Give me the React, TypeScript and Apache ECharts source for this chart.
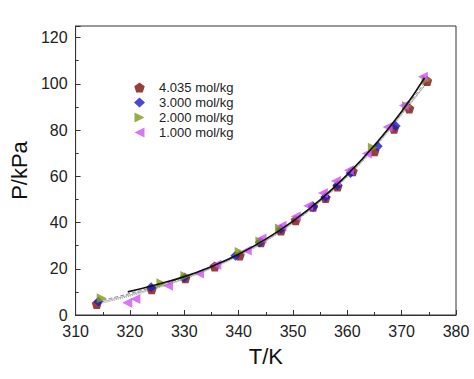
import React, { useEffect, useRef } from "react";
import * as echarts from "echarts";

// Experimental points (T/K, P/kPa)
const t4035 = [313.9, 324.0, 330.2, 335.6, 340.2, 344.1, 347.8, 350.5, 353.7, 356.0, 358.2, 361.0, 365.0, 368.6, 371.4, 374.7];
const p4035 = [4.8, 11.1, 15.9, 21.0, 25.7, 31.5, 36.6, 41.0, 46.8, 50.6, 55.6, 62.2, 70.8, 80.6, 89.3, 101.2];

const t3000 = [314.2, 323.9, 330.0, 339.4, 343.9, 347.8, 353.7, 356.0, 358.2, 360.6, 365.6, 368.9];
const p3000 = [5.8, 12.0, 16.2, 25.6, 31.5, 37.2, 46.7, 51.0, 56.1, 61.4, 73.0, 81.7];

const t2000 = [314.8, 325.8, 330.2, 340.2, 344.0, 347.6, 364.7, 371.0, 374.6];
const p2000 = [7.2, 13.7, 16.9, 27.2, 31.8, 37.4, 72.3, 90.3, 101.8];

const t1000 = [319.5, 321.0, 327.0, 332.7, 335.9, 341.5, 344.2, 347.9, 350.5, 352.8, 355.5, 357.9, 360.3, 363.6, 367.4, 370.4, 373.9];
const p1000 = [5.3, 6.9, 12.7, 18.0, 21.7, 27.9, 33.1, 38.6, 42.6, 47.3, 52.8, 58.0, 62.6, 69.8, 81.3, 90.6, 103.1];

// Fitted curves
const tFitBlack = [319.6, 325, 330, 335, 340, 345, 350, 355, 360, 365, 370, 374.2];
const pFitBlack = [10.0, 13.2, 16.6, 21.0, 26.3, 32.8, 40.6, 49.8, 60.7, 73.4, 88.0, 102.5];
const tFitGrayA = [315, 320, 325, 330, 335, 340, 345, 350, 355, 360, 365, 370, 374.8];
const pFitGrayA = [5.8, 8.7, 12.0, 15.8, 20.4, 25.8, 32.2, 40.0, 49.2, 60.0, 72.6, 87.0, 101.0];
const tFitGrayB = [315, 320, 325, 330, 335, 340, 345, 350, 355, 360, 365, 370, 374.6];
const pFitGrayB = [6.4, 9.3, 12.6, 16.3, 20.8, 26.1, 32.5, 40.3, 49.5, 60.4, 73.0, 87.5, 101.6];
const tFitGrayC = [315, 320, 325, 330, 335, 340, 345, 350, 355, 360, 365, 370, 374.7];
const pFitGrayC = [5.2, 8.2, 11.6, 15.5, 20.1, 25.5, 31.9, 39.7, 48.9, 59.7, 72.2, 86.5, 100.5];

const seriesNames = ["4.035 mol/kg", "3.000 mol/kg", "2.000 mol/kg", "1.000 mol/kg"];
const xTicks = { min: 310, max: 380, interval: 10 };
const yTicks = { min: 0, max: 125, interval: 20 };

const zip = (a: number[], b: number[]) => a.map((v, i) => [v, b[i]]);

const PENTAGON = "path://M0,-10 L9.51,-3.09 L5.88,8.09 L-5.88,8.09 L-9.51,-3.09 Z";
const TRI_RIGHT = "path://M0,0 L10,5 L0,10 Z";
const TRI_LEFT = "path://M10,0 L0,5 L10,10 Z";

export default function App() {
  const ref = useRef<HTMLDivElement>(null);
  useEffect(() => {
    if (!ref.current) return;
    const chart = echarts.init(ref.current, undefined, { renderer: "svg" });
    const font = "Liberation Sans, Arial, sans-serif";
    const fitLine = (name: string, t: number[], p: number[], color: string, type: any, width: number, z: number) => ({
      name,
      type: "line",
      data: zip(t, p),
      smooth: true,
      showSymbol: false,
      symbol: "none",
      lineStyle: { color, type, width },
      z,
      silent: true,
    });
    chart.setOption({
      animation: false,
      backgroundColor: "#ffffff",
      grid: {
        left: 63,
        right: 18,
        top: 26,
        bottom: 64,
        show: true,
        borderColor: "#333",
        borderWidth: 1,
      },
      legend: {
        data: seriesNames,
        orient: "vertical",
        left: 129,
        top: 76,
        itemWidth: 11,
        itemHeight: 10,
        itemGap: 2,
        textStyle: { fontFamily: font, fontSize: 13, color: "#222", padding: [0, 0, 0, 9] },
      },
      xAxis: {
        type: "value",
        min: xTicks.min,
        max: xTicks.max,
        interval: xTicks.interval,
        name: "T/K",
        nameLocation: "middle",
        nameGap: 30,
        nameTextStyle: { fontFamily: font, fontSize: 22, color: "#111" },
        axisLine: { show: true, lineStyle: { color: "#333", width: 1 } },
        axisTick: { show: true, inside: true, length: 5, lineStyle: { color: "#333" } },
        minorTick: { show: true, splitNumber: 2, length: 3, lineStyle: { color: "#333" } },
        axisLabel: { fontFamily: font, fontSize: 16, color: "#222", margin: 8 },
        splitLine: { show: false },
      },
      yAxis: {
        type: "value",
        min: yTicks.min,
        max: yTicks.max,
        interval: yTicks.interval,
        name: "P/kPa",
        nameLocation: "middle",
        nameGap: 40,
        nameTextStyle: { fontFamily: font, fontSize: 22, color: "#111" },
        axisLine: { show: true, lineStyle: { color: "#333", width: 1 } },
        axisTick: { show: true, inside: true, length: 5, lineStyle: { color: "#333" } },
        minorTick: { show: true, splitNumber: 2, length: 3, lineStyle: { color: "#333" } },
        axisLabel: { fontFamily: font, fontSize: 16, color: "#222", margin: 8, showMaxLabel: false },
        splitLine: { show: false },
      },
      series: [
        fitLine("fitC", tFitGrayC, pFitGrayC, "#999", "dotted", 1, 1),
        fitLine("fitB", tFitGrayB, pFitGrayB, "#888", "dashed", 1, 1),
        fitLine("fitA", tFitGrayA, pFitGrayA, "#aaa", "solid", 1, 1),
        {
          name: seriesNames[0],
          type: "scatter",
          data: zip(t4035, p4035),
          symbol: PENTAGON,
          symbolSize: 10,
          itemStyle: { color: "#7e0e0e" },
          z: 2,
        },
        {
          name: seriesNames[1],
          type: "scatter",
          data: zip(t3000, p3000),
          symbol: "diamond",
          symbolSize: 10,
          itemStyle: { color: "#1c1cc4" },
          z: 3,
        },
        {
          name: seriesNames[2],
          type: "scatter",
          data: zip(t2000, p2000),
          symbol: TRI_RIGHT,
          symbolSize: 10,
          itemStyle: { color: "#7c9a18" },
          z: 4,
        },
        {
          name: seriesNames[3],
          type: "scatter",
          data: zip(t1000, p1000),
          symbol: TRI_LEFT,
          symbolSize: 10,
          itemStyle: { color: "#cc55f2" },
          z: 5,
        },
        fitLine("fitBlack", tFitBlack, pFitBlack, "#111", "solid", 1.6, 6),
      ],
    });
    return () => chart.dispose();
  }, []);
  return (
    <div
      ref={ref}
      style={{ position: "fixed", left: 0, top: 0, width: 474, height: 379, background: "#fff" }}
    />
  );
}
